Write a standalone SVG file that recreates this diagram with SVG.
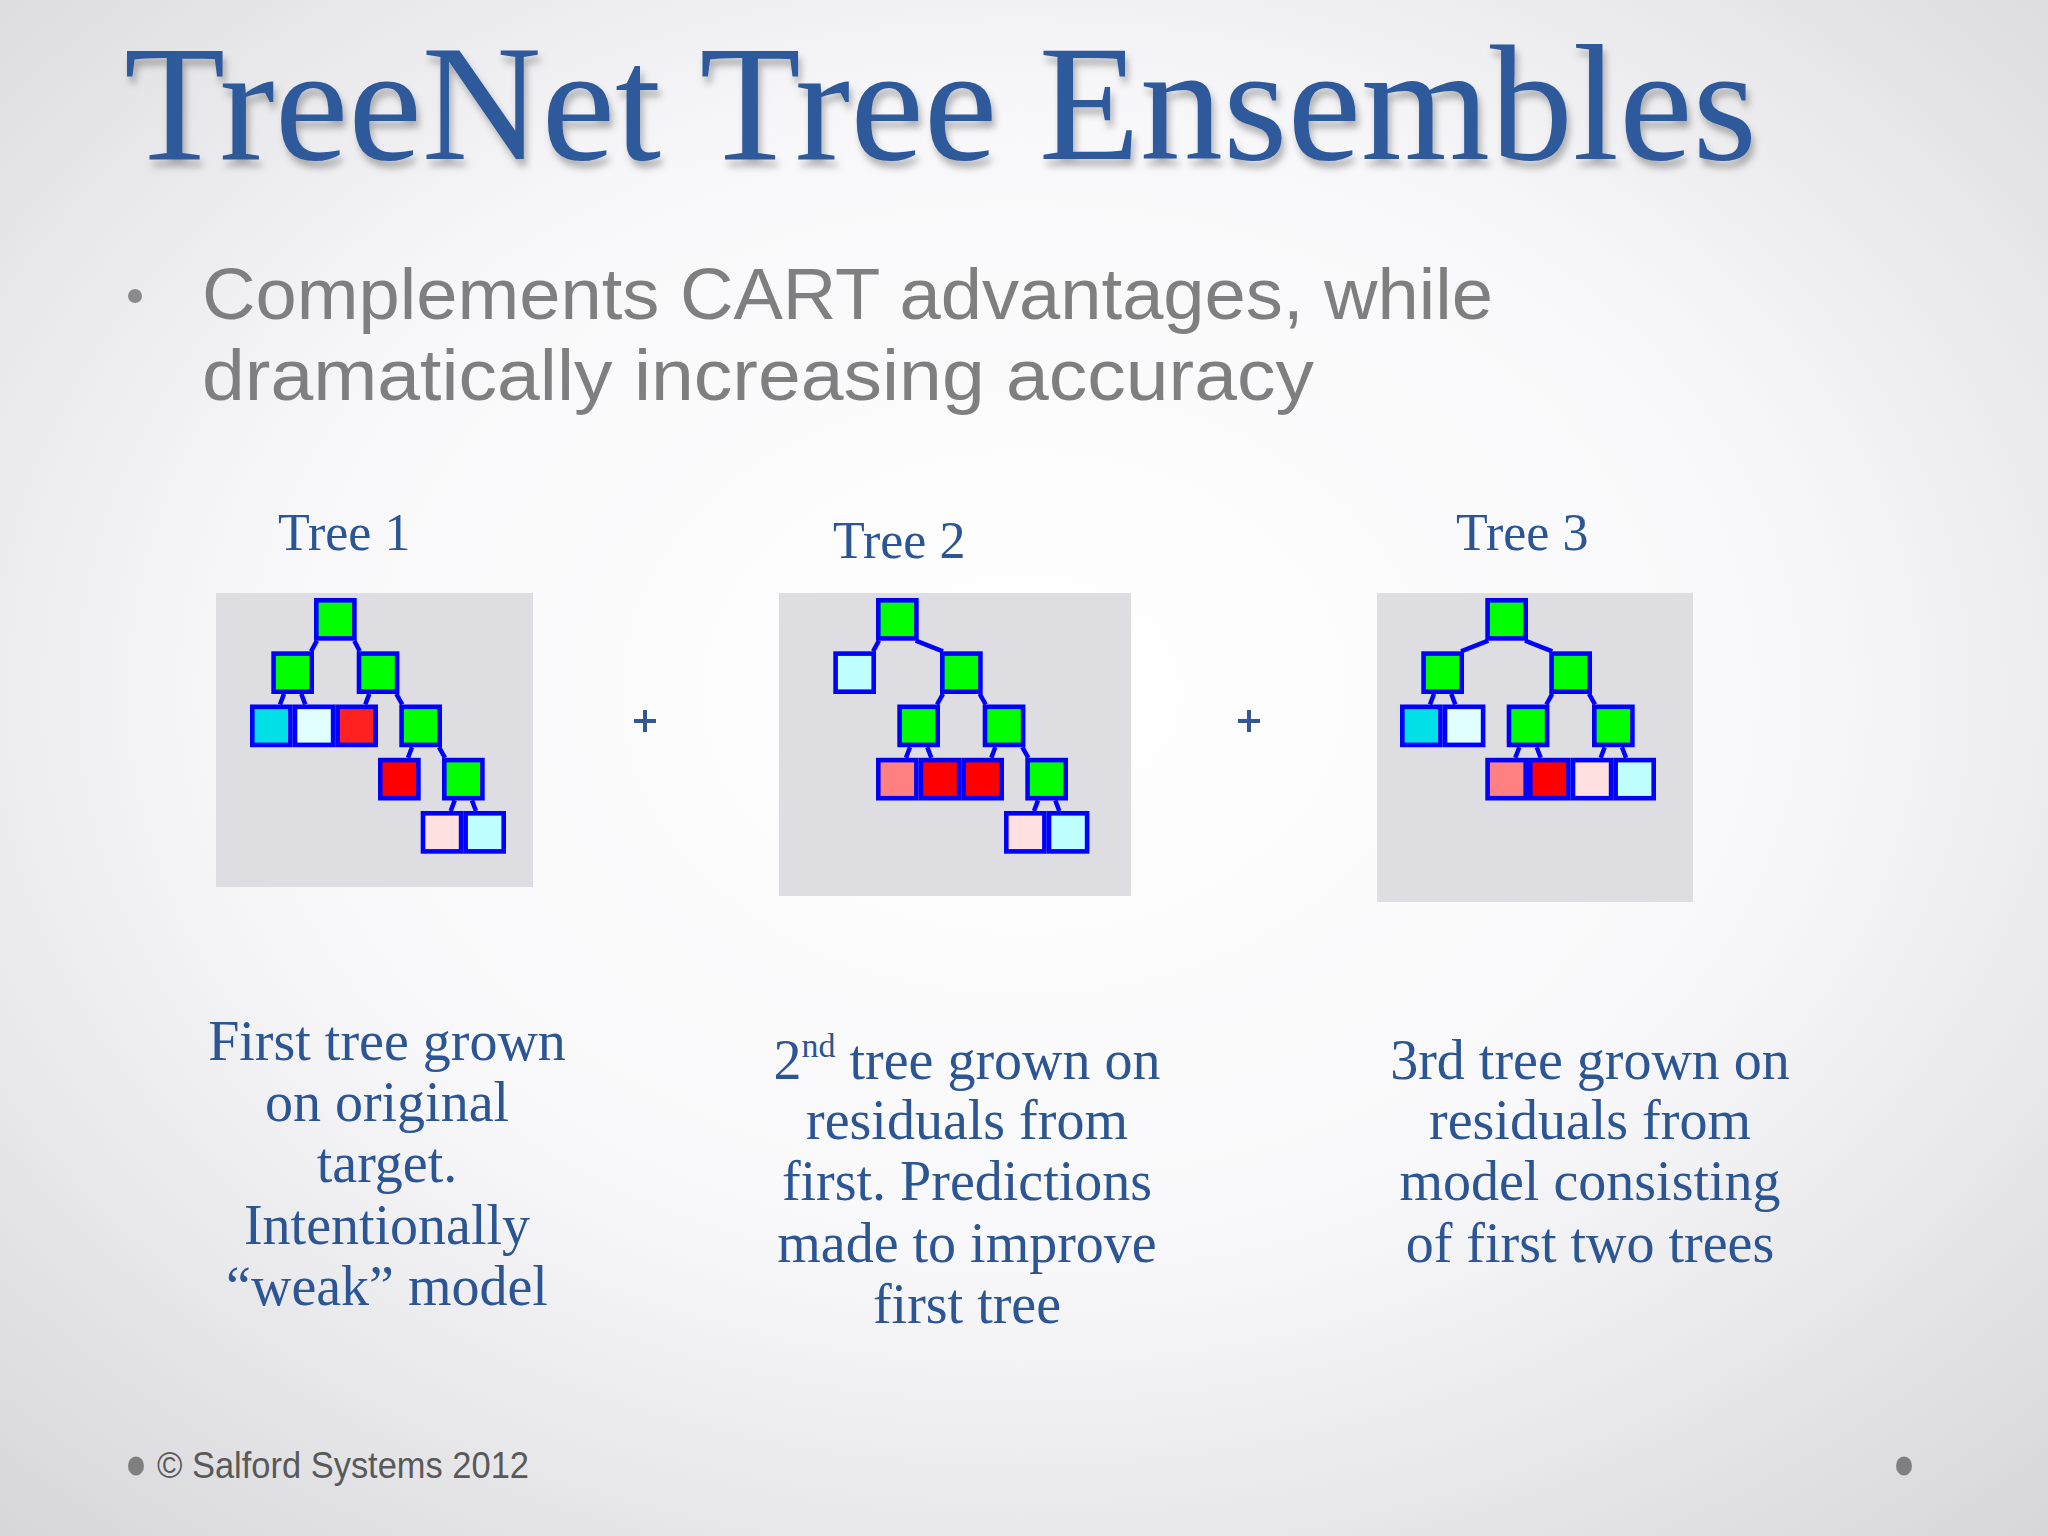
<svg xmlns="http://www.w3.org/2000/svg" width="2048" height="1536" viewBox="0 0 2048 1536">
<defs>
<radialGradient id="bg" cx="50%" cy="45%" r="75%">
<stop offset="0" stop-color="#ffffff"/>
<stop offset="0.5" stop-color="#f8f8fa"/>
<stop offset="1" stop-color="#d6d6da"/>
</radialGradient>
<filter id="sh" x="-5%" y="-20%" width="110%" height="150%">
<feDropShadow dx="3" dy="7" stdDeviation="3.5" flood-color="#000" flood-opacity="0.28"/>
</filter>
<style>
.title{font-family:"Liberation Serif",serif;font-size:166px;fill:#2e5a9c}
.body{font-family:"Liberation Sans",sans-serif;font-size:72px;fill:#7f7f7f}
.lbl{font-family:"Liberation Serif",serif;font-size:52px;fill:#2c5594}
.desc{font-family:"Liberation Serif",serif;font-size:56px;fill:#2c5594;text-anchor:middle}
.foot{font-family:"Liberation Sans",sans-serif;font-size:36px;fill:#595959}
.panel{fill:#dddde2}
.n{stroke:#0000ff;stroke-width:4.6}
.g{fill:#00ff00}.cy{fill:#00e0e6}.lc{fill:#e0ffff}.lc2{fill:#c0ffff}
.r{fill:#ff0000}.r1{fill:#ff2020}.sa{fill:#ff8080}.pk{fill:#ffe0e0}
.c line{stroke:#0000ff;stroke-width:4.5}
.plus{stroke:#34588f;stroke-width:4}
</style>
</defs>
<rect width="2048" height="1536" fill="url(#bg)"/>

<text class="title" x="124" y="159" textLength="1633" lengthAdjust="spacingAndGlyphs" filter="url(#sh)">TreeNet Tree Ensembles</text>

<circle cx="135" cy="296" r="7" fill="#8a8a8a"/>
<text class="body" x="202" y="319" textLength="1291" lengthAdjust="spacingAndGlyphs">Complements CART advantages, while</text>
<text class="body" x="202" y="400" textLength="1112" lengthAdjust="spacingAndGlyphs">dramatically increasing accuracy</text>

<text class="lbl" x="278" y="550">Tree 1</text>
<text class="lbl" x="833" y="558">Tree 2</text>
<text class="lbl" x="1456" y="550">Tree 3</text>

<g id="plus1"><line class="plus" x1="634" y1="721" x2="656" y2="721"/><line class="plus" x1="645" y1="710" x2="645" y2="732"/></g>
<g id="plus2"><line class="plus" x1="1238" y1="721" x2="1260" y2="721"/><line class="plus" x1="1249" y1="710" x2="1249" y2="732"/></g>

<!-- Tree 1 -->
<g id="tree1">
<rect class="panel" x="216" y="593" width="317" height="294"/>
<g class="c" id="tree1-connectors">
<line x1="317" y1="640.7" x2="311" y2="651.3"/>
<line x1="354.3" y1="640.7" x2="359.7" y2="651.3"/>
<line x1="284" y1="693.9" x2="280" y2="704.5"/>
<line x1="301.3" y1="693.9" x2="305.3" y2="704.5"/>
<line x1="369.3" y1="693.9" x2="365.3" y2="704.5"/>
<line x1="396.3" y1="693.9" x2="402.3" y2="704.5"/>
<line x1="412" y1="747.2" x2="408" y2="757.8"/>
<line x1="439" y1="747.2" x2="445" y2="757.8"/>
<line x1="454.7" y1="800.4" x2="450.7" y2="811"/>
<line x1="472" y1="800.4" x2="476" y2="811"/>
</g>
<g id="t1-root"><rect class="n g" x="316.3" y="600.3" width="38.1" height="38.1"/></g>
<g id="t1-n2"><rect class="n g" x="273.6" y="653.6" width="38.1" height="38.1"/></g>
<g id="t1-n3"><rect class="n g" x="359" y="653.6" width="38.1" height="38.1"/></g>
<g id="t1-l1"><rect class="n cy" x="252.3" y="706.8" width="38.1" height="38.1"/></g>
<g id="t1-l2"><rect class="n lc" x="295" y="706.8" width="38.1" height="38.1"/></g>
<g id="t1-l3"><rect class="n r1" x="337.6" y="706.8" width="38.1" height="38.1"/></g>
<g id="t1-n4"><rect class="n g" x="401.6" y="706.8" width="38.1" height="38.1"/></g>
<g id="t1-l4"><rect class="n r" x="380.3" y="760.1" width="38.1" height="38.1"/></g>
<g id="t1-n5"><rect class="n g" x="444.3" y="760.1" width="38.1" height="38.1"/></g>
<g id="t1-l5"><rect class="n pk" x="423" y="813.3" width="38.1" height="38.1"/></g>
<g id="t1-l6"><rect class="n lc2" x="465.6" y="813.3" width="38.1" height="38.1"/></g>
</g>

<!-- Tree 2 -->
<g id="tree2">
<rect class="panel" x="779" y="593" width="352" height="303"/>
<g class="c" id="tree2-connectors">
<line x1="879" y1="640.7" x2="873" y2="651.3"/>
<line x1="915.7" y1="640.7" x2="943" y2="651.3"/>
<line x1="943" y1="693.9" x2="937" y2="704.5"/>
<line x1="979.7" y1="693.9" x2="985.7" y2="704.5"/>
<line x1="910" y1="747.2" x2="906" y2="757.8"/>
<line x1="927.3" y1="747.2" x2="931.3" y2="757.8"/>
<line x1="995.3" y1="747.2" x2="991.3" y2="757.8"/>
<line x1="1022.3" y1="747.2" x2="1028.3" y2="757.8"/>
<line x1="1038" y1="800.4" x2="1034" y2="811"/>
<line x1="1055.3" y1="800.4" x2="1059.3" y2="811"/>
</g>
<g id="t2-root"><rect class="n g" x="878.3" y="600.3" width="38.1" height="38.1"/></g>
<g id="t2-l1"><rect class="n lc2" x="835.6" y="653.6" width="38.1" height="38.1"/></g>
<g id="t2-n2"><rect class="n g" x="942.3" y="653.6" width="38.1" height="38.1"/></g>
<g id="t2-n3"><rect class="n g" x="899.6" y="706.8" width="38.1" height="38.1"/></g>
<g id="t2-n4"><rect class="n g" x="985" y="706.8" width="38.1" height="38.1"/></g>
<g id="t2-l2"><rect class="n sa" x="878.3" y="760.1" width="38.1" height="38.1"/></g>
<g id="t2-l3"><rect class="n r" x="921" y="760.1" width="38.1" height="38.1"/></g>
<g id="t2-l4"><rect class="n r" x="963.6" y="760.1" width="38.1" height="38.1"/></g>
<g id="t2-n5"><rect class="n g" x="1027.6" y="760.1" width="38.1" height="38.1"/></g>
<g id="t2-l5"><rect class="n pk" x="1006.3" y="813.3" width="38.1" height="38.1"/></g>
<g id="t2-l6"><rect class="n lc2" x="1049" y="813.3" width="38.1" height="38.1"/></g>
</g>

<!-- Tree 3 -->
<g id="tree3">
<rect class="panel" x="1377" y="593" width="316" height="309"/>
<g class="c" id="tree3-connectors">
<line x1="1488.3" y1="640.7" x2="1461" y2="651.3"/>
<line x1="1525" y1="640.7" x2="1552.3" y2="651.3"/>
<line x1="1434" y1="693.9" x2="1430" y2="704.5"/>
<line x1="1451.3" y1="693.9" x2="1455.3" y2="704.5"/>
<line x1="1552.3" y1="693.9" x2="1546.3" y2="704.5"/>
<line x1="1589" y1="693.9" x2="1595" y2="704.5"/>
<line x1="1519.3" y1="747.2" x2="1515.3" y2="757.8"/>
<line x1="1536.7" y1="747.2" x2="1540.7" y2="757.8"/>
<line x1="1604.7" y1="747.2" x2="1600.7" y2="757.8"/>
<line x1="1622" y1="747.2" x2="1626" y2="757.8"/>
</g>
<g id="t3-root"><rect class="n g" x="1487.6" y="600.3" width="38.1" height="38.1"/></g>
<g id="t3-n2"><rect class="n g" x="1423.6" y="653.6" width="38.1" height="38.1"/></g>
<g id="t3-n3"><rect class="n g" x="1551.6" y="653.6" width="38.1" height="38.1"/></g>
<g id="t3-l1"><rect class="n cy" x="1402.3" y="706.8" width="38.1" height="38.1"/></g>
<g id="t3-l2"><rect class="n lc" x="1445" y="706.8" width="38.1" height="38.1"/></g>
<g id="t3-n4"><rect class="n g" x="1509" y="706.8" width="38.1" height="38.1"/></g>
<g id="t3-n5"><rect class="n g" x="1594.3" y="706.8" width="38.1" height="38.1"/></g>
<g id="t3-l3"><rect class="n sa" x="1487.6" y="760.1" width="38.1" height="38.1"/></g>
<g id="t3-l4"><rect class="n r" x="1530.3" y="760.1" width="38.1" height="38.1"/></g>
<g id="t3-l5"><rect class="n pk" x="1573" y="760.1" width="38.1" height="38.1"/></g>
<g id="t3-l6"><rect class="n lc2" x="1615.6" y="760.1" width="38.1" height="38.1"/></g>
</g>

<g id="desc1">
<text class="desc" x="387" y="1060">First tree grown</text>
<text class="desc" x="387" y="1121">on original</text>
<text class="desc" x="387" y="1182">target.</text>
<text class="desc" x="387" y="1244">Intentionally</text>
<text class="desc" x="387" y="1305">“weak” model</text>
</g>
<g id="desc2">
<text class="desc" x="967" y="1079">2<tspan font-size="34" dy="-22">nd</tspan><tspan dy="22"> tree grown on</tspan></text>
<text class="desc" x="967" y="1139">residuals from</text>
<text class="desc" x="967" y="1200">first. Predictions</text>
<text class="desc" x="967" y="1262">made to improve</text>
<text class="desc" x="967" y="1323">first tree</text>
</g>
<g id="desc3">
<text class="desc" x="1590" y="1079">3rd tree grown on</text>
<text class="desc" x="1590" y="1139">residuals from</text>
<text class="desc" x="1590" y="1200">model consisting</text>
<text class="desc" x="1590" y="1262">of first two trees</text>
</g>

<ellipse cx="136" cy="1466" rx="8" ry="9.5" fill="#7f7f7f"/>
<text class="foot" x="157" y="1478" textLength="372" lengthAdjust="spacingAndGlyphs">© Salford Systems 2012</text>
<ellipse cx="1904" cy="1466" rx="8" ry="9.5" fill="#7f7f7f"/>
</svg>
